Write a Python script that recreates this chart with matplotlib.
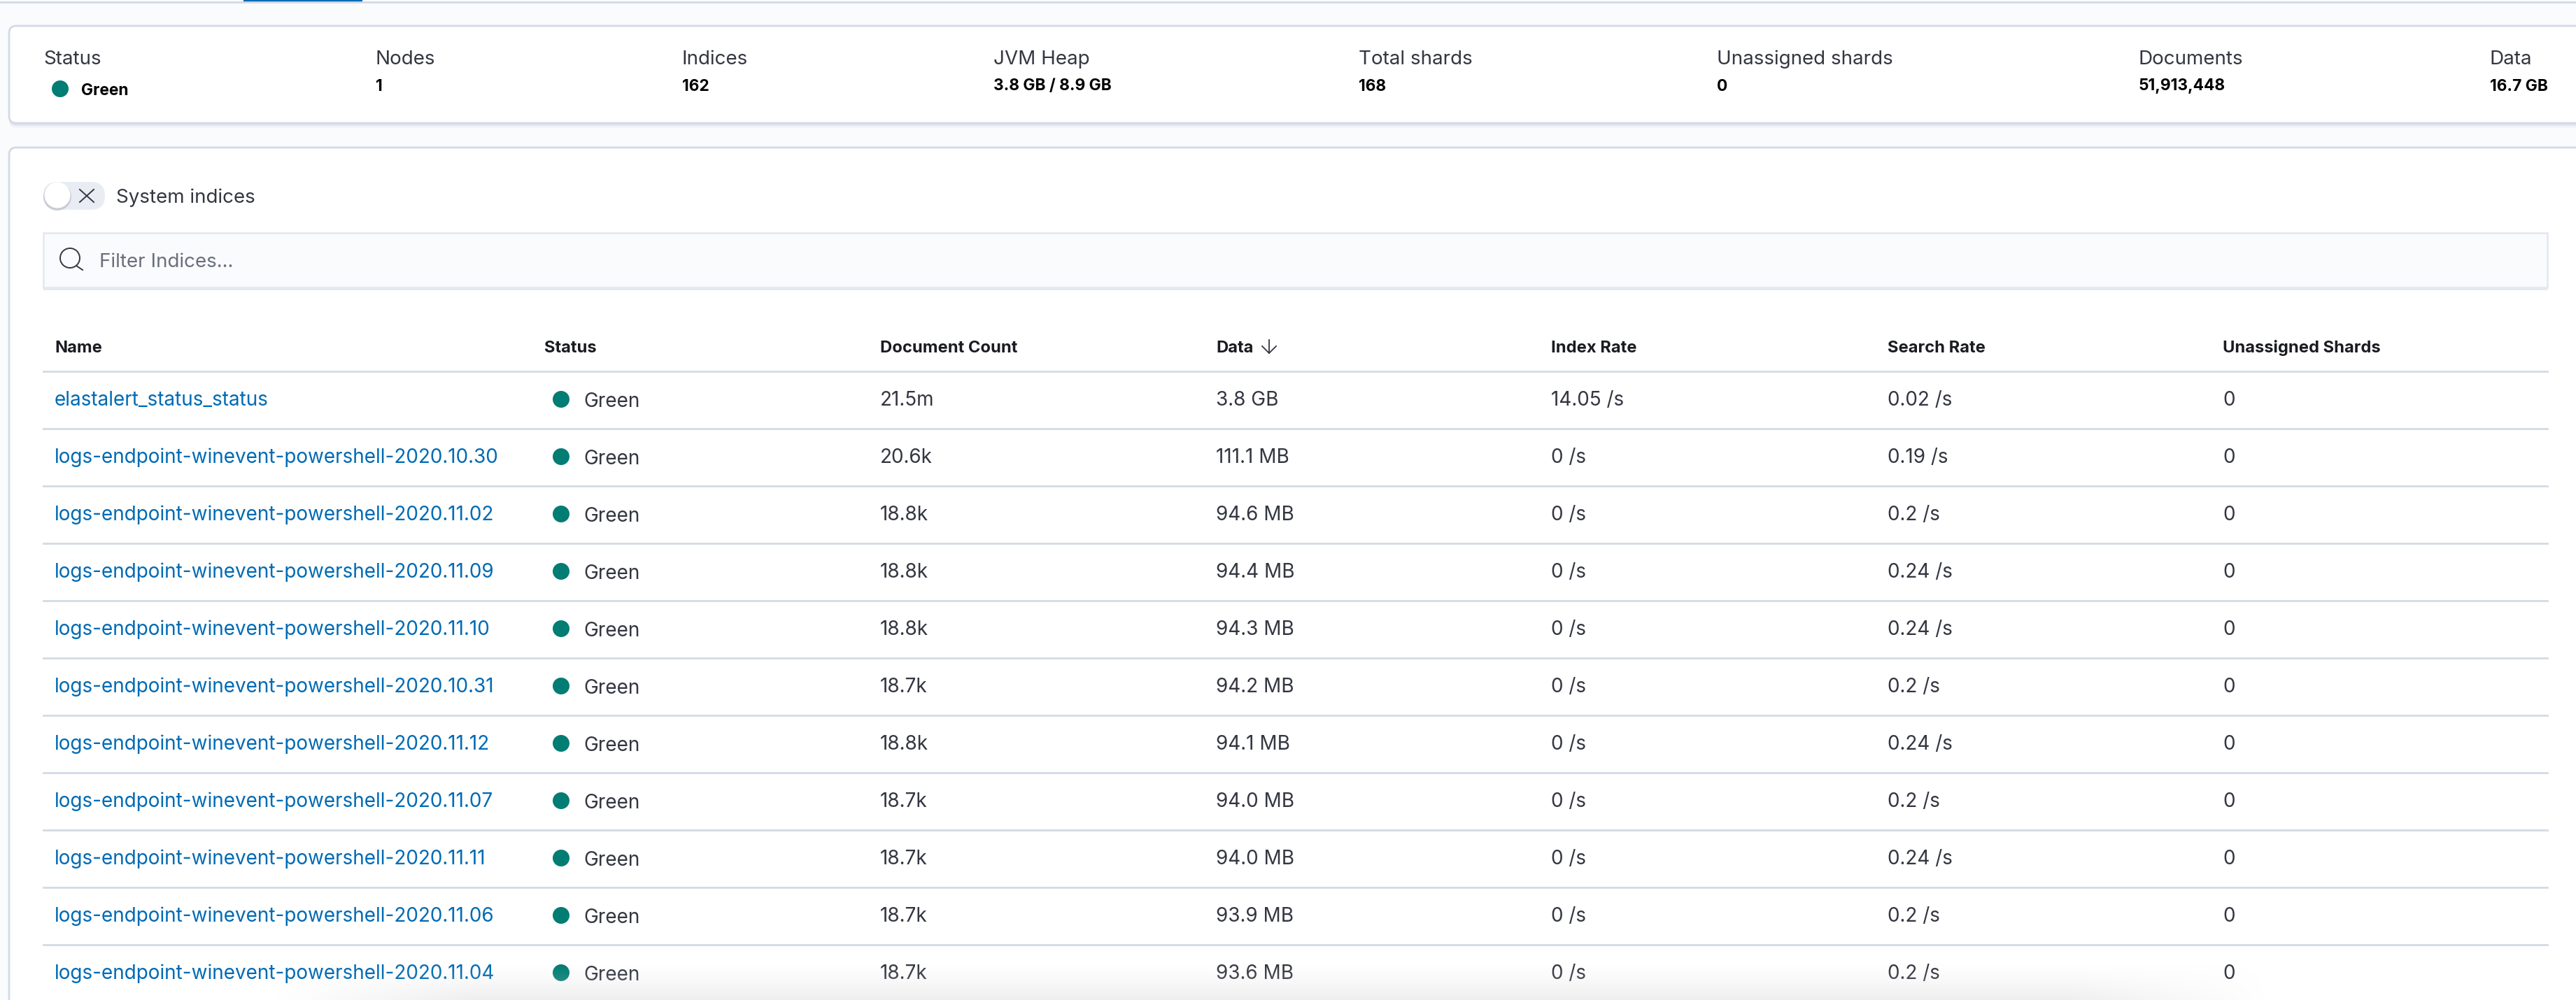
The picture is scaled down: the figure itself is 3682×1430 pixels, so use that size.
import matplotlib
matplotlib.use("Agg")
import matplotlib.pyplot as plt
import numpy as np
from matplotlib.patches import Circle, FancyBboxPatch, Rectangle

plt.rcParams["font.family"] = ["Inter", "DejaVu Sans"]

summary_labels = ["Status", "Nodes", "Indices", "JVM Heap", "Total shards", "Unassigned shards", "Documents", "Data"]
summary_values = ["Green", "1", "162", "3.8 GB / 8.9 GB", "168", "0", "51,913,448", "16.7 GB"]

col_headers = ["Name", "Status", "Document Count", "Data", "Index Rate", "Search Rate", "Unassigned Shards"]
index_names = [
    "elastalert_status_status",
    "logs-endpoint-winevent-powershell-2020.10.30",
    "logs-endpoint-winevent-powershell-2020.11.02",
    "logs-endpoint-winevent-powershell-2020.11.09",
    "logs-endpoint-winevent-powershell-2020.11.10",
    "logs-endpoint-winevent-powershell-2020.10.31",
    "logs-endpoint-winevent-powershell-2020.11.12",
    "logs-endpoint-winevent-powershell-2020.11.07",
    "logs-endpoint-winevent-powershell-2020.11.11",
    "logs-endpoint-winevent-powershell-2020.11.06",
    "logs-endpoint-winevent-powershell-2020.11.04",
]
statuses = ["Green"] * 11
doc_counts = ["21.5m", "20.6k", "18.8k", "18.8k", "18.8k", "18.7k", "18.8k", "18.7k", "18.7k", "18.7k", "18.7k"]
data_sizes = ["3.8 GB", "111.1 MB", "94.6 MB", "94.4 MB", "94.3 MB", "94.2 MB", "94.1 MB", "94.0 MB", "94.0 MB", "93.9 MB", "93.6 MB"]
index_rates = ["14.05 /s", "0 /s", "0 /s", "0 /s", "0 /s", "0 /s", "0 /s", "0 /s", "0 /s", "0 /s", "0 /s"]
search_rates = ["0.02 /s", "0.19 /s", "0.2 /s", "0.24 /s", "0.24 /s", "0.2 /s", "0.24 /s", "0.2 /s", "0.24 /s", "0.2 /s", "0.2 /s"]
unassigned = ["0"] * 11

# layout in image pixels
summary_x = [62, 537, 975, 1420, 1942, 2454, 3057, 3559]
col_x = [78, 778, 1258, 1738, 2217, 2698, 3177]
first_line = 531
row_h = 82

BORDER = "#d3dae6"
TEXT = "#343741"
LINK = "#006bb4"
GREEN = "#017d73"
BODY = 20.1
SMALL = 16.4
HEAD = 17.1

fig = plt.figure(figsize=(36.82, 14.30), dpi=100, facecolor="#fafbfd")
ax = fig.add_axes([0, 0, 1, 1])
ax.set_xlim(0, 3682)
ax.set_ylim(1430, 0)
ax.axis("off")


def panel(x0, y0, x1, y1):
    for off, alpha in [(7, 0.12), (5, 0.2), (3, 0.35)]:
        ax.add_patch(FancyBboxPatch((x0, y0 + off), x1 - x0, y1 - y0, boxstyle="round,pad=0,rounding_size=10",
                                    fc="#c8d0de", ec="none", alpha=alpha))
    ax.add_patch(FancyBboxPatch((x0, y0), x1 - x0, y1 - y0, boxstyle="round,pad=0,rounding_size=10",
                                fc="white", ec=BORDER, lw=2))


# tab bar
ax.plot([0, 3682], [2.5, 2.5], color=BORDER, lw=2)
ax.add_patch(Rectangle((348, 0), 170, 4, fc=LINK, ec="none"))

panel(13, 37, 3720, 176)
panel(13, 211, 3720, 1500)

# summary strip
for i, (lab, val, x) in enumerate(zip(summary_labels, summary_values, summary_x)):
    ax.text(x, 82, lab, fontsize=20, color=TEXT, va="center_baseline", ha="left")
    if i == 0:
        ax.add_patch(Circle((86, 127), 12, fc=GREEN, ec="none"))
        ax.text(116, 127, val, fontsize=SMALL, color="black", fontweight="bold", va="center_baseline", ha="left")
    else:
        ax.text(x, 121, val, fontsize=SMALL, color="black", fontweight="bold", va="center_baseline", ha="left")

# system indices switch
ax.add_patch(FancyBboxPatch((62, 260), 88, 40, boxstyle="round,pad=0,rounding_size=20", fc="#e9edf3", ec="none"))
ax.add_patch(Circle((82, 281), 20, fc="#c8ccd4", ec="none"))
ax.add_patch(Circle((82, 279), 18.5, fc="white", ec="none"))
ax.plot([114, 134], [271, 289], color=TEXT, lw=1.4)
ax.plot([114, 134], [289, 271], color=TEXT, lw=1.4)
ax.text(166, 280, "System indices", fontsize=20, color=TEXT, va="center_baseline", ha="left")

# search box
ax.add_patch(Rectangle((62, 337), 3579, 78, fc="#e4e8ef", ec="none"))
ax.add_patch(Rectangle((62, 333), 3579, 78, fc="#fafbfd", ec="#e6e9f0", lw=2))
ax.add_patch(Circle((100, 369), 14, fc="none", ec=TEXT, lw=1.4))
ax.plot([109, 118], [380, 386], color=TEXT, lw=1.4)
ax.text(142, 372, "Filter Indices...", fontsize=20, color="#69707d", va="center_baseline", ha="left")

# table
for x, h in zip(col_x, col_headers):
    ax.text(x, 495, h, fontsize=HEAD, color="#1a1c21", fontweight="bold", va="center_baseline", ha="left")
# sort arrow next to Data
ax.plot([1814, 1814], [486, 505], color=TEXT, lw=1.3)
ax.plot([1804, 1814, 1824], [495, 505, 495], color=TEXT, lw=1.3)

ax.plot([62, 3641], [first_line, first_line], color=BORDER, lw=2)
for i in range(len(index_names)):
    line_y = first_line + row_h * (i + 1)
    text_y = first_line + row_h * i + 39
    if i < len(index_names) - 1:
        ax.plot([62, 3641], [line_y, line_y], color=BORDER, lw=2)
    ax.text(col_x[0], text_y - 0.5, index_names[i], fontsize=BODY, color=LINK, va="center_baseline", ha="left")
    ax.add_patch(Circle((802, text_y + 1), 12, fc=GREEN, ec="none"))
    ax.text(834, text_y + 1, statuses[i], fontsize=BODY, color=TEXT, va="center_baseline", ha="left")
    for x, col in zip(col_x[2:], [doc_counts, data_sizes, index_rates, search_rates, unassigned]):
        ax.text(x, text_y - 0.5, col[i], fontsize=BODY, color=TEXT, va="center_baseline", ha="left")

# grey fade along the bottom edge
fy = np.linspace(0, 1, 60)[:, None]
fx = np.linspace(0, 1, 600)[None, :]
edge = np.clip(np.minimum(fx * 10, (1 - fx) * 10), 0, 1)
rgba = np.zeros((60, 600, 4))
rgba[..., :3] = 0.85
rgba[..., 3] = fy ** 1.2 * edge * 0.42
ax.imshow(rgba, extent=(390, 3240, 1430, 1378), aspect="auto", zorder=5)
ax.set_xlim(0, 3682)
ax.set_ylim(1430, 0)

fig.savefig("out.png", dpi=100, facecolor=fig.get_facecolor())
